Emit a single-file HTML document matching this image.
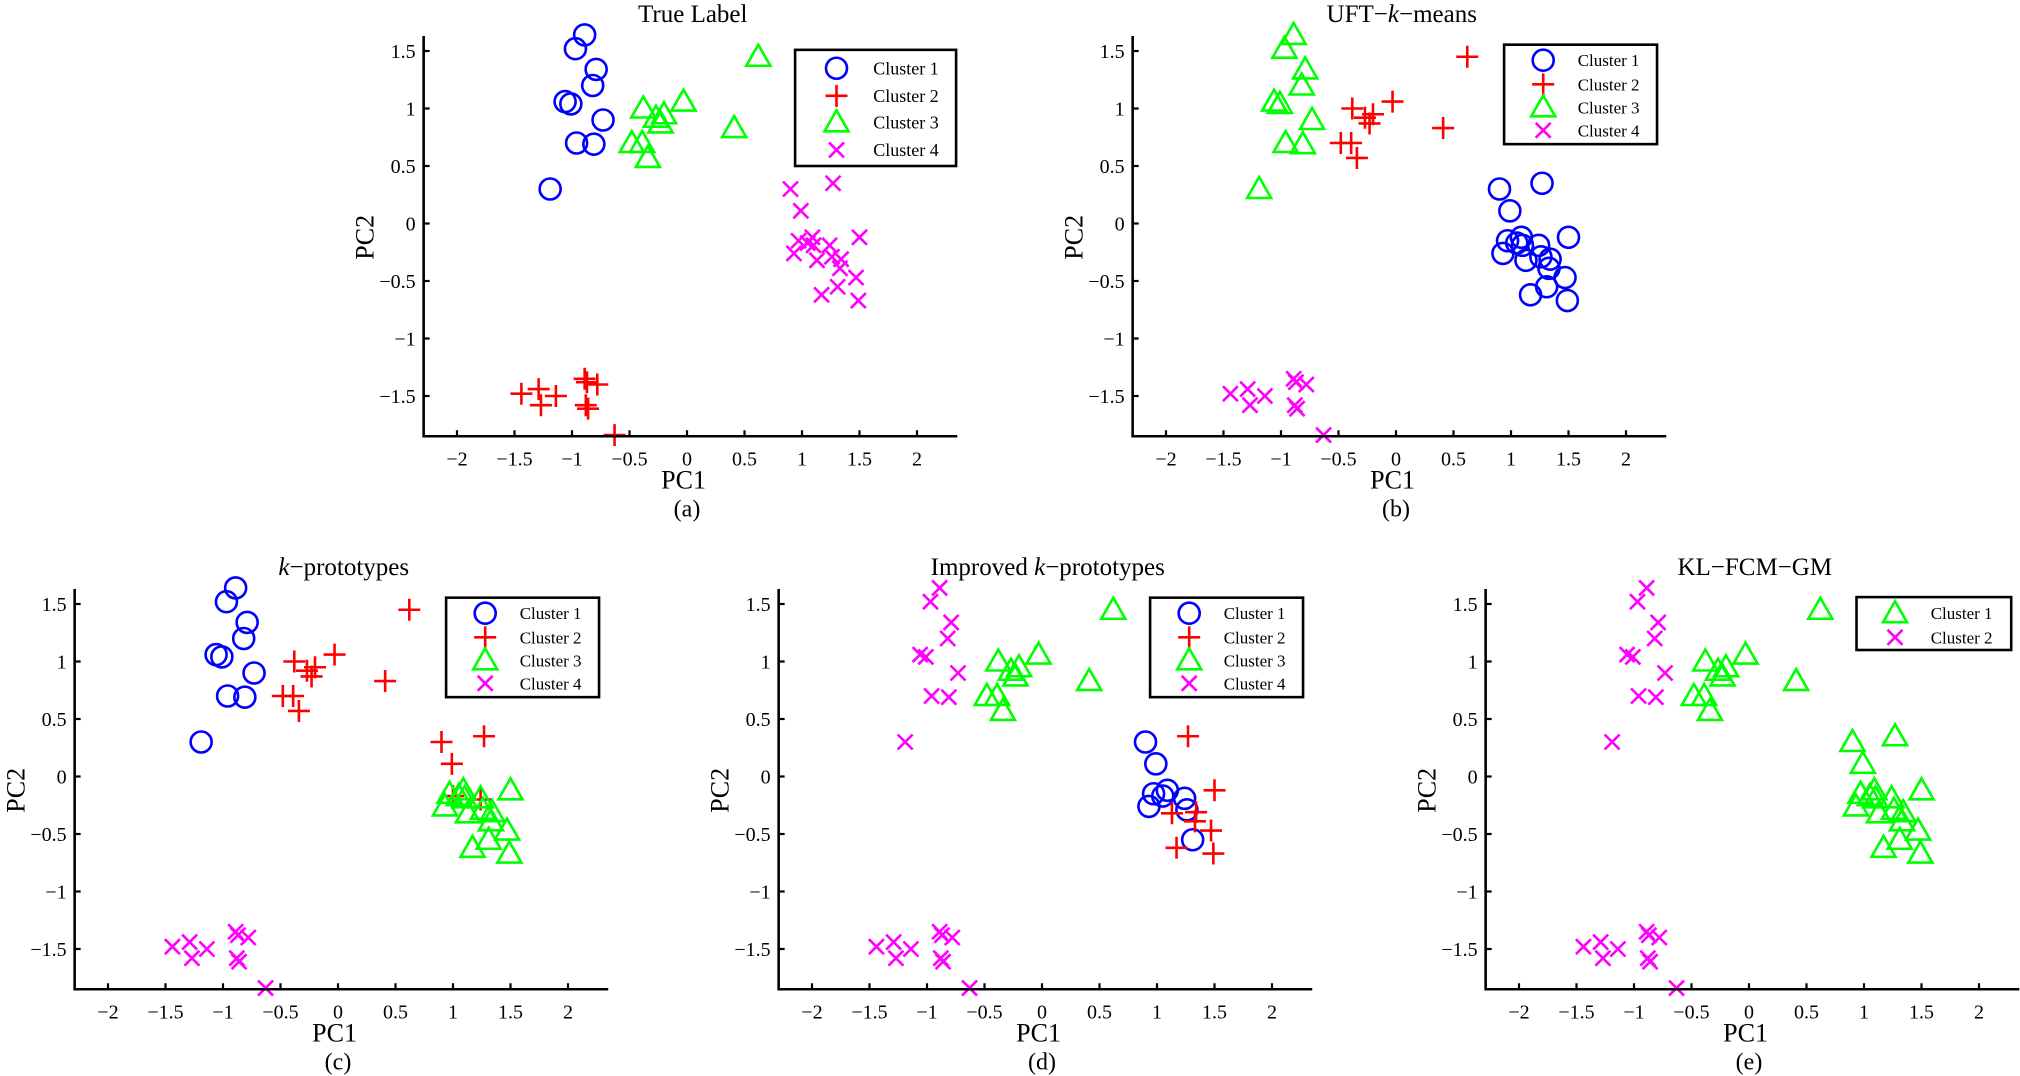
<!DOCTYPE html>
<html><head><meta charset="utf-8"><style>
html,body{margin:0;padding:0;background:#fff;}
svg{display:block;}
text{font-family:"Liberation Serif","DejaVu Serif",serif;fill:#000;}
</style></head><body>
<svg id="s" width="2020" height="1076" xmlns="http://www.w3.org/2000/svg" font-family="Liberation Serif, serif"></svg>
<script>
const C1=[[-0.89,1.64],[-0.97,1.52],[-0.79,1.34],[-0.82,1.20],[-1.06,1.06],[-1.01,1.04],[-0.73,0.90],[-0.96,0.70],[-0.81,0.69],[-1.19,0.30]];
const C2=[[-1.44,-1.48],[-1.29,-1.44],[-1.27,-1.58],[-1.14,-1.50],[-0.89,-1.35],[-0.87,-1.38],[-0.78,-1.40],[-0.88,-1.58],[-0.86,-1.61],[-0.63,-1.84]];
const C3=[[0.62,1.45],[-0.38,1.0],[-0.03,1.06],[-0.27,0.92],[-0.20,0.95],[-0.23,0.87],[0.41,0.83],[-0.48,0.70],[-0.39,0.70],[-0.34,0.57]];
const C4a=[[0.90,0.30],[1.27,0.35],[0.99,0.11]];
const C4b=[[1.50,-0.12],[0.97,-0.15],[0.93,-0.26],[1.05,-0.17],[1.09,-0.12],[1.10,-0.19],[1.24,-0.19],[1.13,-0.32],[1.26,-0.29],[1.34,-0.31],[1.33,-0.39],[1.47,-0.47],[1.17,-0.62],[1.31,-0.55],[1.49,-0.67]];
const C4=C4a.concat(C4b);
const COL={o:'#0000ff','+':'#ff0000','^':'#00ff00',x:'#ff00ff'};
const U=115;
let out='';
function mk(t,px,py){
  const c=COL[t];
  if(t==='o')return `<circle cx="${px}" cy="${py}" r="10.5" fill="none" stroke="${c}" stroke-width="2.6"/>`;
  if(t==='+')return `<path d="M${px-11} ${py}H${px+11}M${px} ${py-11}V${py+11}" stroke="${c}" stroke-width="2.6"/>`;
  if(t==='^')return `<path d="M${px} ${py-12}L${px+12} ${py+9}L${px-12} ${py+9}Z" fill="none" stroke="${c}" stroke-width="2.6"/>`;
  return `<path d="M${px-7.5} ${py-7.5}L${px+7.5} ${py+7.5}M${px+7.5} ${py-7.5}L${px-7.5} ${py+7.5}" stroke="${c}" stroke-width="2.6"/>`;
}
function plot(x0,y0,title,lab,series,legend,leg){
  const X=v=>x0+v*U, Y=v=>y0-v*U;
  const L=X(-2.29),R=X(2.35),T=Y(1.63),B=Y(1.85*-1);
  series.forEach(([t,pts])=>pts.forEach(p=>out+=mk(t,X(p[0]),Y(p[1]))));
  out+=`<path d="M${L} ${T}V${B}H${R}" fill="none" stroke="#000" stroke-width="2.6"/>`;
  [-2,-1.5,-1,-0.5,0,0.5,1,1.5,2].forEach(v=>{
    out+=`<line x1="${X(v)}" y1="${B}" x2="${X(v)}" y2="${B-6}" stroke="#000" stroke-width="2.2"/>`;
    out+=`<text x="${X(v)}" y="${B+29}" font-size="20" text-anchor="middle">${String(v).replace('-','\u2212')}</text>`;
  });
  [-1.5,-1,-0.5,0,0.5,1,1.5].forEach(v=>{
    out+=`<line x1="${L}" y1="${Y(v)}" x2="${L+6}" y2="${Y(v)}" stroke="#000" stroke-width="2.2"/>`;
    out+=`<text x="${L-8}" y="${Y(v)+7}" font-size="20" text-anchor="end">${String(v).replace('-','\u2212')}</text>`;
  });
  out+=`<text x="${X(-0.03)}" y="${B+52}" font-size="26" text-anchor="middle">PC1</text>`;
  out+=`<text x="${X(0.0)}" y="${B+80}" font-size="24" text-anchor="middle">${lab}</text>`;
  out+=`<text transform="translate(${L-50},${Y(-0.12)}) rotate(-90)" font-size="26" text-anchor="middle">PC2</text>`;
  out+=`<text x="${X(0.05)}" y="${T-14}" font-size="25" text-anchor="middle">${title}</text>`;
  const [lx1,lx2,ly1,ly2,mx,tx,rows,fs]=leg;
  out+=`<rect x="${X(lx1)}" y="${Y(ly1)}" width="${X(lx2)-X(lx1)}" height="${Y(ly2)-Y(ly1)}" fill="#fff" stroke="#000" stroke-width="2.6"/>`;
  legend.forEach((t,i)=>{
    out+=mk(t,X(mx),Y(rows[i]));
    out+=`<text x="${X(tx)}" y="${Y(rows[i])+6}" font-size="${fs}">Cluster ${i+1}</text>`;
  });
}
const legA=[0.94,2.34,1.51,0.50,1.30,1.62,[1.35,1.11,0.88,0.64],18];
const legB=[0.94,2.27,1.555,0.69,1.28,1.58,[1.42,1.21,1.01,0.81],17];
const ik='<tspan font-style="italic">k</tspan>';
plot(687,223.5,'True Label','(a)',[['o',C1],['+',C2],['^',C3],['x',C4]],['o','+','^','x'],legA);
plot(1396,223.5,'UFT\u2212'+ik+'\u2212means','(b)',[['^',C1],['+',C3],['o',C4],['x',C2]],['o','+','^','x'],legB);
const c4red=C4a.concat([[1.0,-0.17],[1.24,-0.2]]);
plot(338,776.5,ik+'\u2212prototypes','(c)',[['o',C1],['+',c4red],['+',C3],['^',C4b],['x',C2]],['o','+','^','x'],legB);
const dBlue=[[0.90,0.30],[0.99,0.11],[0.97,-0.15],[0.93,-0.26],[1.05,-0.17],[1.09,-0.12],[1.24,-0.19],[1.26,-0.29],[1.31,-0.55]];
const dRed=[[1.27,0.35],[1.50,-0.12],[1.13,-0.32],[1.34,-0.31],[1.33,-0.39],[1.47,-0.47],[1.17,-0.62],[1.49,-0.67]];
plot(1042,776.5,'Improved '+ik+'\u2212prototypes','(d)',[['o',dBlue],['+',dRed],['^',C3],['x',C1.concat(C2)]],['o','+','^','x'],legB);
plot(1749,776.5,'KL\u2212FCM\u2212GM','(e)',[['^',C3.concat(C4)],['x',C1.concat(C2)]],['^','x'],[0.935,2.28,1.56,1.10,1.27,1.58,[1.42,1.21],17]);
document.getElementById('s').innerHTML=out;
</script>
</body></html>
